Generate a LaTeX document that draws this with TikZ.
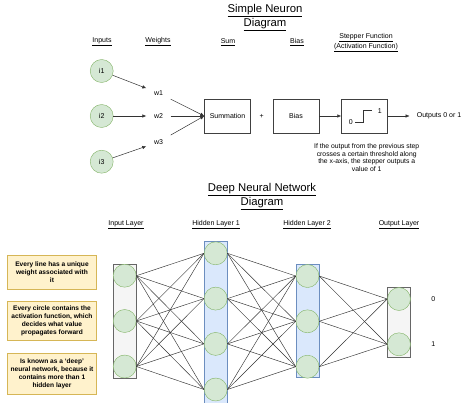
\documentclass[tikz,border=0pt]{standalone}
\usepackage{fontspec}
\setmainfont{Liberation Sans}
\usetikzlibrary{arrows.meta,positioning,calc}
\definecolor{cellgreen}{HTML}{D5E8D4}
\definecolor{edgegreen}{HTML}{82B366}
\definecolor{layerblue}{HTML}{DAE8FC}
\definecolor{edgeblue}{HTML}{6C8EBF}
\definecolor{layergrey}{HTML}{F5F5F5}
\definecolor{edgegrey}{HTML}{666666}
\definecolor{noteyellow}{HTML}{FFF2CC}
\definecolor{edgeyellow}{HTML}{D6B656}

\begin{document}
\begin{tikzpicture}[
        x=1pt, y=-1pt,
        node distance=22pt,
        title/.style={align=center, font=\fontsize{11.3}{13.5}\selectfont},
        head/.style={align=center, font=\fontsize{7}{8.4}\selectfont},
        small/.style={align=center, font=\fontsize{6.8}{7.7}\selectfont},
        box/.style={draw=black!75, line width=0.5pt, minimum width=46pt, minimum height=34pt, font=\fontsize{7}{8.4}\selectfont},
        wlabel/.style={minimum width=24pt, minimum height=14pt, inner sep=0pt, font=\fontsize{7}{8.4}\selectfont},
        cell/.style={circle, fill=cellgreen, draw=edgegreen, line width=0.4pt, minimum size=23pt, inner sep=0pt, font=\fontsize{7}{8.4}\selectfont},
        layer/.style={rectangle, minimum width=23pt, line width=0.5pt, inner sep=0pt},
        note/.style={draw=edgeyellow, fill=noteyellow, line width=0.4pt, minimum width=89pt, align=center, inner sep=1pt, font=\bfseries\fontsize{6.6}{7.9}\selectfont},
        arrow/.style={-{Latex[length=4pt,width=3.5pt]}, draw=black!80, line width=0.5pt},
        link/.style={draw=black!80, line width=0.45pt}
    ]
    \useasboundingbox (0,0) rectangle (474,402);
    \fill[white] (0,0) rectangle (474,402);

    % simple neuron
    \node[title] (t1) at (265,17.5) {\underline{Simple Neuron}\\\underline{Diagram}};
    \node[head] (hin) at (102,42) {\underline{Inputs}};
    \node[head] (hw) at (158,42) {\underline{Weights}};
    \node[head] (hsum) at (228,42) {\underline{Sum}};
    \node[head] (hbias) at (297,42) {\underline{Bias}};
    \node[head] (hstep) at (366,42.5) {\underline{Stepper Function}\\\underline{(Activation Function)}};

    \node[cell] (i1) at (101.7,71) {i1};
    \node[cell] (i2) at (101.7,116) {i2};
    \node[cell] (i3) at (101.7,161.7) {i3};
    \node[wlabel] (w1) at (158.5,93) {w1};
    \node[wlabel] (w2) at (158.5,116) {w2};
    \node[wlabel] (w3) at (158.5,142) {w3};

    \node[box] (sum) at (227.5,116) {Summation};
    \node[box, right=of sum] (bias) {Bias};
    \node[box, right=of bias] (stepper) {};
    \node[head] (plus) at ($(sum.east)!0.5!(bias.west)$) {+};
    \node[head, inner sep=7pt] (out) at (439,116) {Outputs 0 or 1};

    \draw[link] ($(stepper.center)+(-9.5,6.3)$) coordinate (s0) -- ++(8.3,0) -- ++(0,-11.6) -- ++(8.4,0) coordinate (s1);
    \node[head, left=1pt of s0, inner sep=1pt] (zero) {0};
    \node[head, right=5pt of s1, inner sep=1pt] (one) {1};

    \foreach \k in {1,2,3} {
        \draw[arrow] (i\k) -- (w\k);
        \draw[arrow] (w\k) -- (sum.west);
    }
    \draw[arrow] (bias) -- (stepper);
    \draw[arrow] (stepper) -- (out);

    \node[small] (remark) at (366.7,157.5) {If the output from the previous step\\crosses a certain threshold along\\the x-axis, the stepper outputs a\\value of 1};

    % deep network
    \node[title] (t2) at (262,196.5) {\underline{Deep Neural Network}\\\underline{Diagram}};
    \node[head] (hl0) at (126,225) {\underline{Input Layer}};
    \node[head] (hl1) at (216,225) {\underline{Hidden Layer 1}};
    \node[head] (hl2) at (307,225) {\underline{Hidden Layer 2}};
    \node[head] (hl3) at (399,225) {\underline{Output Layer}};

    \node[layer, fill=layergrey, draw=edgegrey, minimum height=114pt] (L0) at (124.7,321.3) {};
    \node[layer, fill=layerblue, draw=edgeblue, minimum height=170pt] (L1) at (215.7,326) {};
    \node[layer, fill=layerblue, draw=edgeblue, minimum height=113.7pt] (L2) at (307.5,320.8) {};
    \node[layer, fill=layergrey, draw=edgegrey, minimum height=70pt] (L3) at (399,322.3) {};

    \foreach \j/\yy in {1/275.7,2/321,3/366.5}
        \node[cell] (a\j) at (124.7,\yy) {};
    \foreach \j/\yy in {1/253.3,2/298.6,3/343.9,4/389.5}
        \node[cell] (b\j) at (215.7,\yy) {};
    \foreach \j/\yy in {1/276,2/321.3,3/366.7}
        \node[cell] (c\j) at (307.5,\yy) {};
    \foreach \j/\yy in {1/299,2/344.3}
        \node[cell] (d\j) at (399,\yy) {};

    \foreach \p in {1,2,3}
        \foreach \q in {1,2,3,4}
            \draw[link] (a\p.east) -- (b\q.west);
    \foreach \p in {1,2,3,4}
        \foreach \q in {1,2,3}
            \draw[link] (b\p.east) -- (c\q.west);
    \foreach \p in {1,2,3}
        \foreach \q in {1,2}
            \draw[link] (c\p.east) -- (d\q.west);

    \node[head] (o0) at (433.3,299) {0};
    \node[head] (o1) at (433.3,344.5) {1};

    \node[note, minimum height=34.3pt] (n1) at (52,272.2) {Every line has a unique\\weight associated with\\it};
    \node[note, minimum height=38.3pt] (n2) at (52,320.8) {Every circle contains the\\activation function, which\\decides what value\\propagates forward};
    \node[note, minimum height=40.7pt] (n3) at (52,373.7) {Is known as a `deep'\\neural network, because it\\contains more than 1\\hidden layer};
\end{tikzpicture}
\end{document}
